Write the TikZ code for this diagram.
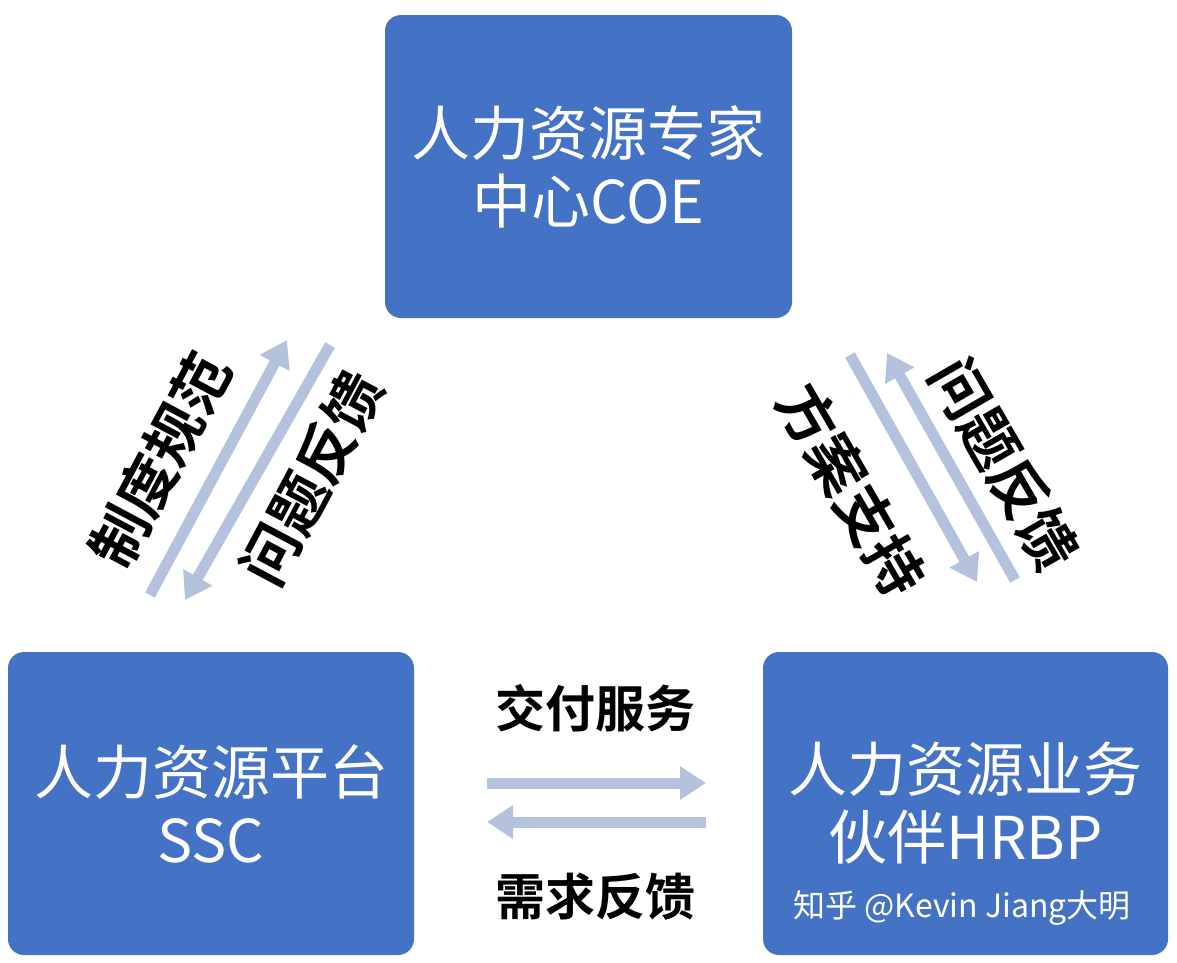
\documentclass[tikz,border=0pt]{standalone}
\usepackage{fontspec}
\setmainfont{Noto Sans CJK SC}
\newfontfamily\cjkb{Noto Sans CJK SC Bold}
\usetikzlibrary{arrows.meta}
\definecolor{boxblue}{HTML}{4472C4}
\definecolor{arrblue}{HTML}{B4C2DE}
\tikzset{
  box/.style={draw=none,fill=boxblue,rounded corners=16pt,text=white,font=\fontsize{59}{68}\selectfont,align=center,inner sep=0pt},
  flow/.style={draw=arrblue,line width=11pt,-{Triangle[length=26pt,width=32pt]}},
  lbl/.style={font=\cjkb\fontsize{50}{54}\selectfont,text=black,inner sep=0pt},
  dlbl/.style={font=\cjkb\fontsize{58}{62}\selectfont,text=black,inner sep=0pt},
}
\begin{document}
\begin{tikzpicture}[x=1pt,y=-1pt]
\useasboundingbox (0,0) rectangle (1177,962);
\fill[white] (0,0) rectangle (1177,962);
\node[box,minimum width=407pt,minimum height=303pt] (coe) at (588.5,166.5) {人力资源专家\\中心COE};
\node[box,minimum width=406pt,minimum height=303pt] (ssc) at (211,803.5) {人力资源平台\\SSC};
\node[box,minimum width=405pt,minimum height=303pt] (hrbp) at (965.5,803.5) {人力资源业务\\伙伴HRBP};
\coordinate (l1a) at (150,595); \coordinate (l1b) at (287,340);
\coordinate (l2a) at (330,345); \coordinate (l2b) at (185,600);
\coordinate (r1a) at (850,355); \coordinate (r1b) at (977,582);
\coordinate (r2a) at (1015,580); \coordinate (r2b) at (887,353);
\coordinate (h1a) at (487,783); \coordinate (h1b) at (706,783);
\coordinate (h2a) at (706,822); \coordinate (h2b) at (487,822);
\draw[flow] (l1a) -- (l1b);
\draw[flow] (l2a) -- (l2b);
\draw[flow] (r1a) -- (r1b);
\draw[flow] (r2a) -- (r2b);
\draw[flow] (h1a) -- (h1b);
\draw[flow] (h2a) -- (h2b);
\node[dlbl,rotate=62] (t1) at (160,460) {制度规范};
\node[dlbl,rotate=62] (t2) at (312,478) {问题反馈};
\node[dlbl,rotate=-60] (t3) at (852,490) {方案支持};
\node[dlbl,rotate=-60] (t4) at (1004,464) {问题反馈};
\node[lbl] (t5) at (595,708) {交付服务};
\node[lbl] (t6) at (595,897) {需求反馈};
\node[text=white,font=\fontsize{32}{36}\selectfont,inner sep=0pt] (wm) at (962,908) {知乎 @Kevin Jiang大明};
\end{tikzpicture}
\end{document}
